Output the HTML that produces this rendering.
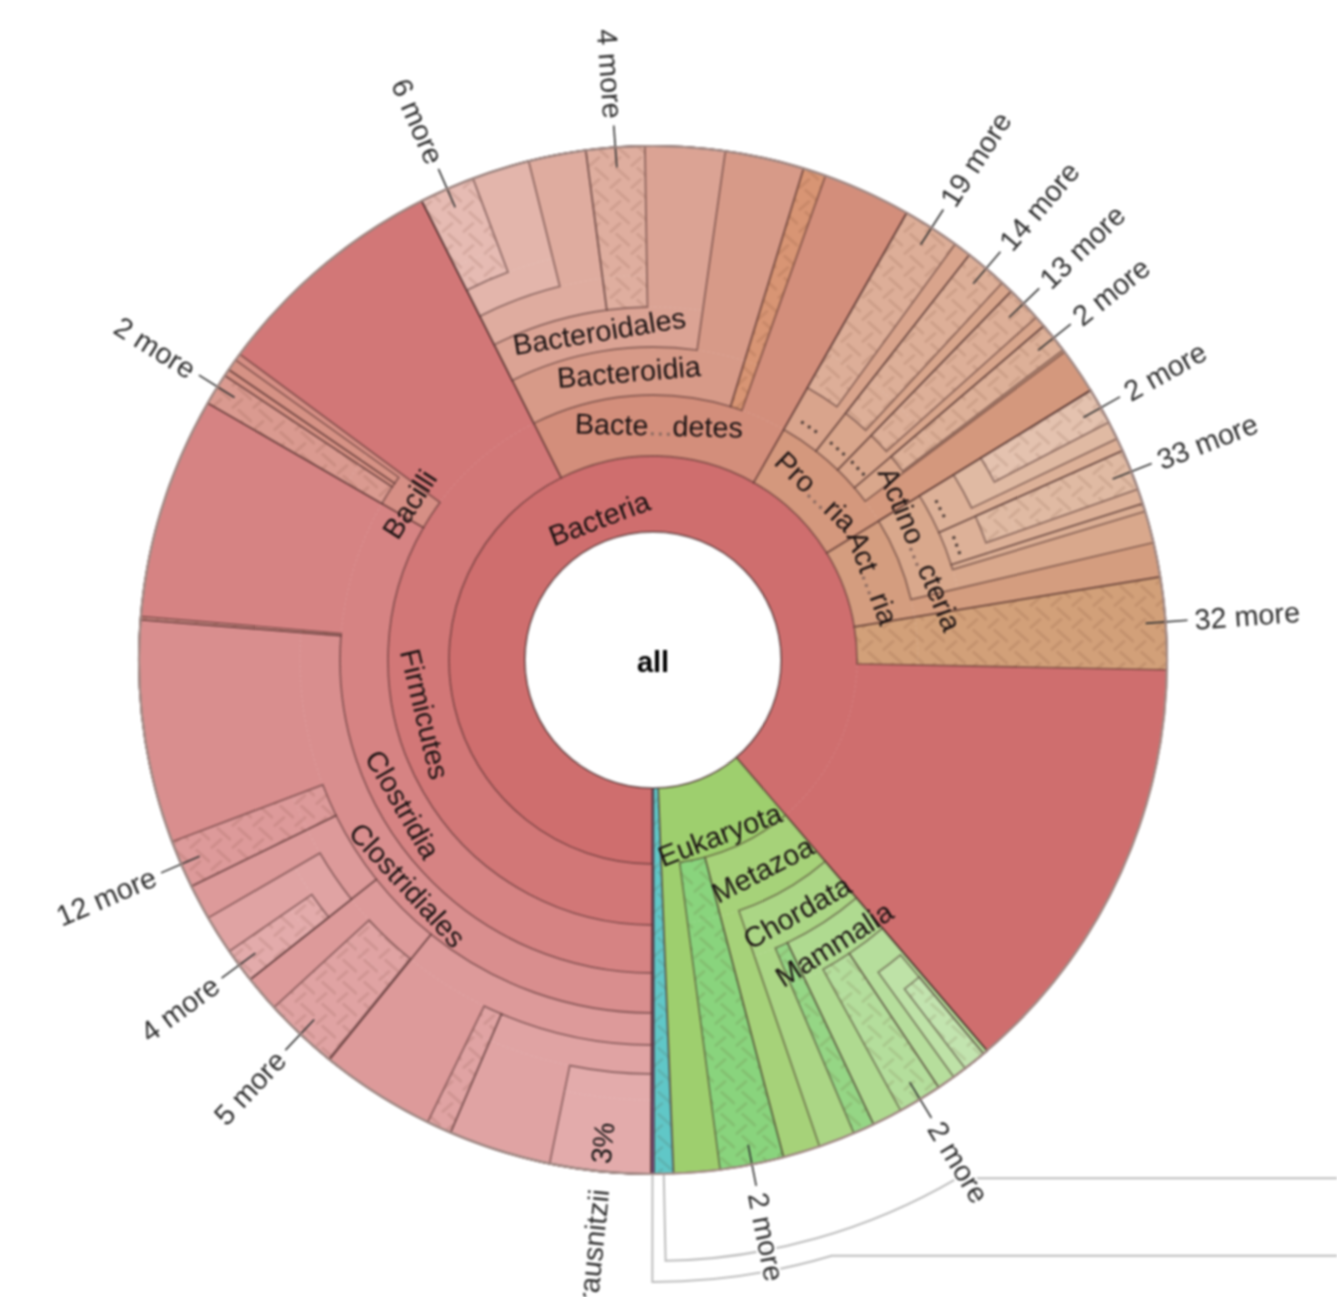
<!DOCTYPE html><html><head><meta charset="utf-8"><style>html,body{margin:0;padding:0;background:#fff;}svg{display:block;}</style></head><body>
<svg width="1337" height="1297" viewBox="0 0 1337 1297" font-family="'Liberation Sans', sans-serif" style="filter:blur(0.85px)">
<defs><pattern id="hp" patternUnits="userSpaceOnUse" width="21" height="22"><path d="M2 11.4 L10.8 3.6 M7.8 14.4 L19.8 25.1 M7.8 -7.6 L19.8 3.1" stroke="rgba(80,40,20,0.11)" stroke-width="3.2" fill="none" stroke-linecap="round"/></pattern></defs>
<rect width="1337" height="1297" fill="#fff"/>
<path d="M652.46 1175.00 L652.35 1282.00 A622.00 622.00 0 0 0 831.74 1255.77 L1340 1255.77" fill="none" stroke="#bdbdbd" stroke-width="2"/><path d="M663.79 1174.89 L665.59 1260.87 A601.00 601.00 0 0 0 957.13 1178.37 L1340 1178.37" fill="none" stroke="#bdbdbd" stroke-width="2"/>
<path d="M652.44 788.00 L650.76 1174.00 A514.00 514.00 0 1 1 986.82 1050.85 L736.13 757.33 A128.00 128.00 0 1 0 652.44 788.00 Z" fill="#cf6e6e" stroke="rgba(60,30,30,0.45)" stroke-width="1.9"/>
<path d="M652.11 864.00 A204.00 204.00 0 1 1 785.49 815.12" fill="none" stroke="rgba(255,255,255,0.09)" stroke-width="1.3" stroke-dasharray="3 2"/>
<path d="M736.13 757.33 L986.82 1050.85 A514.00 514.00 0 0 1 673.63 1173.59 L658.14 787.90 A128.00 128.00 0 0 0 736.13 757.33 Z" fill="#9ecf6e" stroke="rgba(60,30,30,0.45)" stroke-width="1.9"/>
<path d="M785.49 815.12 A204.00 204.00 0 0 1 661.19 863.84" fill="none" stroke="rgba(255,255,255,0.09)" stroke-width="1.3" stroke-dasharray="3 2"/>
<path d="M658.03 787.90 L673.18 1173.60 A514.00 514.00 0 0 1 653.90 1174.00 L653.22 788.00 A128.00 128.00 0 0 0 658.03 787.90 Z" fill="#60c7c7" stroke="rgba(60,30,30,0.45)" stroke-width="1.9"/>
<path d="M658.03 787.90 L673.18 1173.60 A514.00 514.00 0 0 1 653.90 1174.00 L653.22 788.00 A128.00 128.00 0 0 0 658.03 787.90 Z" fill="url(#hp)"/>
<path d="M661.01 863.84 A204.00 204.00 0 0 1 653.36 864.00" fill="none" stroke="rgba(255,255,255,0.09)" stroke-width="1.3" stroke-dasharray="3 2"/>
<path d="M653.22 788.00 L653.90 1174.00 A514.00 514.00 0 0 1 650.76 1174.00 L652.44 788.00 A128.00 128.00 0 0 0 653.22 788.00 Z" fill="#8a5c9c" stroke="rgba(60,30,30,0.45)" stroke-width="1.9"/>
<path d="M653.36 864.00 A204.00 204.00 0 0 1 652.11 864.00" fill="none" stroke="rgba(255,255,255,0.09)" stroke-width="1.3" stroke-dasharray="3 2"/>
<path d="M652.11 864.00 L650.76 1174.00 A514.00 514.00 0 0 1 422.05 200.81 L561.34 477.75 A204.00 204.00 0 0 0 652.11 864.00 Z" fill="#d27777" stroke="rgba(60,30,30,0.45)" stroke-width="1.9"/>
<path d="M651.84 925.00 A265.00 265.00 0 0 1 533.93 423.26" fill="none" stroke="rgba(255,255,255,0.09)" stroke-width="1.3" stroke-dasharray="3 2"/>
<path d="M561.34 477.75 L422.05 200.81 A514.00 514.00 0 0 1 906.89 213.08 L753.76 482.62 A204.00 204.00 0 0 0 561.34 477.75 Z" fill="#d38e7b" stroke="rgba(60,30,30,0.45)" stroke-width="1.9"/>
<path d="M533.93 423.26 A265.00 265.00 0 0 1 783.89 429.58" fill="none" stroke="rgba(255,255,255,0.09)" stroke-width="1.3" stroke-dasharray="3 2"/>
<path d="M753.76 482.62 L906.89 213.08 A514.00 514.00 0 0 1 1090.79 390.67 L826.75 553.11 A204.00 204.00 0 0 0 753.76 482.62 Z" fill="#d4987d" stroke="rgba(60,30,30,0.45)" stroke-width="1.9"/>
<path d="M783.89 429.58 A265.00 265.00 0 0 1 878.71 521.14" fill="none" stroke="rgba(255,255,255,0.09)" stroke-width="1.3" stroke-dasharray="3 2"/>
<path d="M826.75 553.11 L1090.79 390.67 A514.00 514.00 0 0 1 1160.24 576.94 L854.32 627.03 A204.00 204.00 0 0 0 826.75 553.11 Z" fill="#d49d7f" stroke="rgba(60,30,30,0.45)" stroke-width="1.9"/>
<path d="M878.71 521.14 A265.00 265.00 0 0 1 914.52 617.17" fill="none" stroke="rgba(255,255,255,0.09)" stroke-width="1.3" stroke-dasharray="3 2"/>
<path d="M854.32 627.03 L1160.24 576.94 A514.00 514.00 0 0 1 1166.91 669.87 L856.96 663.92 A204.00 204.00 0 0 0 854.32 627.03 Z" fill="#d2a079" stroke="rgba(60,30,30,0.45)" stroke-width="1.9"/>
<path d="M854.32 627.03 L1160.24 576.94 A514.00 514.00 0 0 1 1166.91 669.87 L856.96 663.92 A204.00 204.00 0 0 0 854.32 627.03 Z" fill="url(#hp)"/>
<path d="M914.52 617.17 A265.00 265.00 0 0 1 917.95 665.09" fill="none" stroke="rgba(255,255,255,0.09)" stroke-width="1.3" stroke-dasharray="3 2"/>
<path d="M785.49 815.12 L986.82 1050.85 A514.00 514.00 0 0 1 783.43 1157.18 L704.77 857.32 A204.00 204.00 0 0 0 785.49 815.12 Z" fill="#a6d279" stroke="rgba(60,30,30,0.45)" stroke-width="1.9"/>
<path d="M825.10 861.51 A265.00 265.00 0 0 1 720.25 916.33" fill="none" stroke="rgba(255,255,255,0.09)" stroke-width="1.3" stroke-dasharray="3 2"/>
<path d="M704.77 857.32 L783.43 1157.18 A514.00 514.00 0 0 1 720.09 1169.60 L679.63 862.25 A204.00 204.00 0 0 0 704.77 857.32 Z" fill="#89d47d" stroke="rgba(60,30,30,0.45)" stroke-width="1.9"/>
<path d="M704.77 857.32 L783.43 1157.18 A514.00 514.00 0 0 1 720.09 1169.60 L679.63 862.25 A204.00 204.00 0 0 0 704.77 857.32 Z" fill="url(#hp)"/>
<path d="M720.25 916.33 A265.00 265.00 0 0 1 687.59 922.73" fill="none" stroke="rgba(255,255,255,0.09)" stroke-width="1.3" stroke-dasharray="3 2"/>
<path d="M651.84 925.00 L650.76 1174.00 A514.00 514.00 0 0 1 207.86 403.00 L423.50 527.50 A265.00 265.00 0 0 0 651.84 925.00 Z" fill="#d68383" stroke="rgba(60,30,30,0.45)" stroke-width="1.9"/>
<path d="M651.63 973.00 A313.00 313.00 0 0 1 381.93 503.50" fill="none" stroke="rgba(255,255,255,0.09)" stroke-width="1.3" stroke-dasharray="3 2"/>
<path d="M423.50 527.50 L207.86 403.00 A514.00 514.00 0 0 1 239.82 354.26 L439.98 502.37 A265.00 265.00 0 0 0 423.50 527.50 Z" fill="#d68f85" stroke="rgba(60,30,30,0.45)" stroke-width="1.9"/>
<path d="M381.93 503.50 A313.00 313.00 0 0 1 401.39 473.82" fill="none" stroke="rgba(255,255,255,0.09)" stroke-width="1.3" stroke-dasharray="3 2"/>
<path d="M533.93 423.26 L422.05 200.81 A514.00 514.00 0 0 1 803.71 168.59 L730.70 406.65 A265.00 265.00 0 0 0 533.93 423.26 Z" fill="#d79a88" stroke="rgba(60,30,30,0.45)" stroke-width="1.9"/>
<path d="M512.36 380.37 A313.00 313.00 0 0 1 744.77 360.76" fill="none" stroke="rgba(255,255,255,0.09)" stroke-width="1.3" stroke-dasharray="3 2"/>
<path d="M730.70 406.65 L803.71 168.59 A514.00 514.00 0 0 1 825.42 175.78 L741.89 410.35 A265.00 265.00 0 0 0 730.70 406.65 Z" fill="#d89574" stroke="rgba(60,30,30,0.45)" stroke-width="1.9"/>
<path d="M730.70 406.65 L803.71 168.59 A514.00 514.00 0 0 1 825.42 175.78 L741.89 410.35 A265.00 265.00 0 0 0 730.70 406.65 Z" fill="url(#hp)"/>
<path d="M744.77 360.76 A313.00 313.00 0 0 1 758.00 365.14" fill="none" stroke="rgba(255,255,255,0.09)" stroke-width="1.3" stroke-dasharray="3 2"/>
<path d="M783.89 429.58 L906.89 213.08 A514.00 514.00 0 0 1 969.45 254.96 L816.15 451.18 A265.00 265.00 0 0 0 783.89 429.58 Z" fill="#d9a48c" stroke="rgba(60,30,30,0.45)" stroke-width="1.9"/>
<path d="M807.60 387.85 A313.00 313.00 0 0 1 845.70 413.35" fill="none" stroke="rgba(255,255,255,0.09)" stroke-width="1.3" stroke-dasharray="3 2"/>
<path d="M816.15 451.18 L969.45 254.96 A514.00 514.00 0 0 1 1011.34 291.51 L837.75 470.02 A265.00 265.00 0 0 0 816.15 451.18 Z" fill="#d9a68c" stroke="rgba(60,30,30,0.45)" stroke-width="1.9"/>
<path d="M845.70 413.35 A313.00 313.00 0 0 1 871.21 435.61" fill="none" stroke="rgba(255,255,255,0.09)" stroke-width="1.3" stroke-dasharray="3 2"/>
<path d="M837.75 470.02 L1011.34 291.51 A514.00 514.00 0 0 1 1043.85 326.18 L854.51 487.90 A265.00 265.00 0 0 0 837.75 470.02 Z" fill="#d9a68c" stroke="rgba(60,30,30,0.45)" stroke-width="1.9"/>
<path d="M871.21 435.61 A313.00 313.00 0 0 1 891.01 456.72" fill="none" stroke="rgba(255,255,255,0.09)" stroke-width="1.3" stroke-dasharray="3 2"/>
<path d="M854.51 487.90 L1043.85 326.18 A514.00 514.00 0 0 1 1064.58 352.10 L865.19 501.26 A265.00 265.00 0 0 0 854.51 487.90 Z" fill="#d9a78c" stroke="rgba(60,30,30,0.45)" stroke-width="1.9"/>
<path d="M891.01 456.72 A313.00 313.00 0 0 1 903.63 472.51" fill="none" stroke="rgba(255,255,255,0.09)" stroke-width="1.3" stroke-dasharray="3 2"/>
<path d="M878.71 521.14 L1090.79 390.67 A514.00 514.00 0 0 1 1153.42 542.63 L911.00 599.49 A265.00 265.00 0 0 0 878.71 521.14 Z" fill="#d9a88c" stroke="rgba(60,30,30,0.45)" stroke-width="1.9"/>
<path d="M919.59 495.99 A313.00 313.00 0 0 1 957.73 588.53" fill="none" stroke="rgba(255,255,255,0.09)" stroke-width="1.3" stroke-dasharray="3 2"/>
<path d="M825.10 861.51 L986.82 1050.85 A514.00 514.00 0 0 1 819.49 1146.29 L738.84 910.71 A265.00 265.00 0 0 0 825.10 861.51 Z" fill="#abd685" stroke="rgba(60,30,30,0.45)" stroke-width="1.9"/>
<path d="M856.28 898.01 A313.00 313.00 0 0 1 754.39 956.12" fill="none" stroke="rgba(255,255,255,0.09)" stroke-width="1.3" stroke-dasharray="3 2"/>
<path d="M651.63 973.00 L650.76 1174.00 A514.00 514.00 0 0 1 140.58 619.67 L340.96 635.44 A313.00 313.00 0 0 0 651.63 973.00 Z" fill="#d98e8e" stroke="rgba(60,30,30,0.45)" stroke-width="1.9"/>
<path d="M651.46 1013.00 A353.00 353.00 0 0 1 301.09 632.30" fill="none" stroke="rgba(255,255,255,0.09)" stroke-width="1.3" stroke-dasharray="3 2"/>
<path d="M340.96 635.44 L140.58 619.67 A514.00 514.00 0 0 1 140.84 616.54 L341.12 633.54 A313.00 313.00 0 0 0 340.96 635.44 Z" fill="#d9938c" stroke="rgba(60,30,30,0.45)" stroke-width="1.9"/>
<path d="M340.96 635.44 L140.58 619.67 A514.00 514.00 0 0 1 140.84 616.54 L341.12 633.54 A313.00 313.00 0 0 0 340.96 635.44 Z" fill="url(#hp)"/>
<path d="M301.09 632.30 A353.00 353.00 0 0 1 301.26 630.15" fill="none" stroke="rgba(255,255,255,0.09)" stroke-width="1.3" stroke-dasharray="3 2"/>
<path d="M381.93 503.50 L207.86 403.00 A514.00 514.00 0 0 1 224.88 375.56 L392.30 486.79 A313.00 313.00 0 0 0 381.93 503.50 Z" fill="#da9a90" stroke="rgba(60,30,30,0.45)" stroke-width="1.9"/>
<path d="M381.93 503.50 L207.86 403.00 A514.00 514.00 0 0 1 224.88 375.56 L392.30 486.79 A313.00 313.00 0 0 0 381.93 503.50 Z" fill="url(#hp)"/>
<path d="M347.29 483.50 A353.00 353.00 0 0 1 358.98 464.65" fill="none" stroke="rgba(255,255,255,0.09)" stroke-width="1.3" stroke-dasharray="3 2"/>
<path d="M392.30 486.79 L224.88 375.56 A514.00 514.00 0 0 1 228.89 369.61 L394.74 483.17 A313.00 313.00 0 0 0 392.30 486.79 Z" fill="#d69285" stroke="rgba(60,30,30,0.45)" stroke-width="1.9"/>
<path d="M358.98 464.65 A353.00 353.00 0 0 1 361.73 460.57" fill="none" stroke="rgba(255,255,255,0.09)" stroke-width="1.3" stroke-dasharray="3 2"/>
<path d="M394.74 483.17 L228.89 369.61 A514.00 514.00 0 0 1 235.59 360.06 L398.82 477.35 A313.00 313.00 0 0 0 394.74 483.17 Z" fill="#d69285" stroke="rgba(60,30,30,0.45)" stroke-width="1.9"/>
<path d="M361.73 460.57 A353.00 353.00 0 0 1 366.33 454.01" fill="none" stroke="rgba(255,255,255,0.09)" stroke-width="1.3" stroke-dasharray="3 2"/>
<path d="M512.36 380.37 L422.05 200.81 A514.00 514.00 0 0 1 725.42 151.13 L697.10 350.12 A313.00 313.00 0 0 0 512.36 380.37 Z" fill="#dba394" stroke="rgba(60,30,30,0.45)" stroke-width="1.9"/>
<path d="M494.39 344.64 A353.00 353.00 0 0 1 702.74 310.52" fill="none" stroke="rgba(255,255,255,0.09)" stroke-width="1.3" stroke-dasharray="3 2"/>
<path d="M807.60 387.85 L906.89 213.08 A514.00 514.00 0 0 1 955.12 244.17 L836.98 406.78 A313.00 313.00 0 0 0 807.60 387.85 Z" fill="#ddae98" stroke="rgba(60,30,30,0.45)" stroke-width="1.9"/>
<path d="M807.60 387.85 L906.89 213.08 A514.00 514.00 0 0 1 955.12 244.17 L836.98 406.78 A313.00 313.00 0 0 0 807.60 387.85 Z" fill="url(#hp)"/>
<path d="M827.36 353.07 A353.00 353.00 0 0 1 860.49 374.42" fill="none" stroke="rgba(255,255,255,0.09)" stroke-width="1.3" stroke-dasharray="3 2"/>
<path d="M845.70 413.35 L969.45 254.96 A514.00 514.00 0 0 1 1002.23 282.86 L865.67 430.34 A313.00 313.00 0 0 0 845.70 413.35 Z" fill="#ddaf98" stroke="rgba(60,30,30,0.45)" stroke-width="1.9"/>
<path d="M845.70 413.35 L969.45 254.96 A514.00 514.00 0 0 1 1002.23 282.86 L865.67 430.34 A313.00 313.00 0 0 0 845.70 413.35 Z" fill="url(#hp)"/>
<path d="M870.33 381.83 A353.00 353.00 0 0 1 892.84 400.99" fill="none" stroke="rgba(255,255,255,0.09)" stroke-width="1.3" stroke-dasharray="3 2"/>
<path d="M871.21 435.61 L1011.34 291.51 A514.00 514.00 0 0 1 1036.17 317.40 L886.33 451.38 A313.00 313.00 0 0 0 871.21 435.61 Z" fill="#ddaf98" stroke="rgba(60,30,30,0.45)" stroke-width="1.9"/>
<path d="M871.21 435.61 L1011.34 291.51 A514.00 514.00 0 0 1 1036.17 317.40 L886.33 451.38 A313.00 313.00 0 0 0 871.21 435.61 Z" fill="url(#hp)"/>
<path d="M899.10 406.93 A353.00 353.00 0 0 1 916.15 424.71" fill="none" stroke="rgba(255,255,255,0.09)" stroke-width="1.3" stroke-dasharray="3 2"/>
<path d="M891.01 456.72 L1043.85 326.18 A514.00 514.00 0 0 1 1062.96 349.95 L902.64 471.20 A313.00 313.00 0 0 0 891.01 456.72 Z" fill="#ddb098" stroke="rgba(60,30,30,0.45)" stroke-width="1.9"/>
<path d="M891.01 456.72 L1043.85 326.18 A514.00 514.00 0 0 1 1062.96 349.95 L902.64 471.20 A313.00 313.00 0 0 0 891.01 456.72 Z" fill="url(#hp)"/>
<path d="M921.42 430.74 A353.00 353.00 0 0 1 934.55 447.07" fill="none" stroke="rgba(255,255,255,0.09)" stroke-width="1.3" stroke-dasharray="3 2"/>
<path d="M919.59 495.99 L1090.79 390.67 A514.00 514.00 0 0 1 1122.56 450.94 L938.94 532.69 A313.00 313.00 0 0 0 919.59 495.99 Z" fill="#ddb198" stroke="rgba(60,30,30,0.45)" stroke-width="1.9"/>
<path d="M953.66 475.03 A353.00 353.00 0 0 1 975.48 516.42" fill="none" stroke="rgba(255,255,255,0.09)" stroke-width="1.3" stroke-dasharray="3 2"/>
<path d="M938.94 532.69 L1122.56 450.94 A514.00 514.00 0 0 1 1142.67 503.73 L951.18 564.84 A313.00 313.00 0 0 0 938.94 532.69 Z" fill="#ddb198" stroke="rgba(60,30,30,0.45)" stroke-width="1.9"/>
<path d="M975.48 516.42 A353.00 353.00 0 0 1 989.29 552.68" fill="none" stroke="rgba(255,255,255,0.09)" stroke-width="1.3" stroke-dasharray="3 2"/>
<path d="M951.18 564.84 L1142.67 503.73 A514.00 514.00 0 0 1 1145.06 511.44 L952.64 569.53 A313.00 313.00 0 0 0 951.18 564.84 Z" fill="#dbae94" stroke="rgba(60,30,30,0.45)" stroke-width="1.9"/>
<path d="M989.29 552.68 A353.00 353.00 0 0 1 990.93 557.97" fill="none" stroke="rgba(255,255,255,0.09)" stroke-width="1.3" stroke-dasharray="3 2"/>
<path d="M856.28 898.01 L986.82 1050.85 A514.00 514.00 0 0 1 873.47 1124.31 L787.26 942.74 A313.00 313.00 0 0 0 856.28 898.01 Z" fill="#afda90" stroke="rgba(60,30,30,0.45)" stroke-width="1.9"/>
<path d="M882.26 928.42 A353.00 353.00 0 0 1 804.41 978.88" fill="none" stroke="rgba(255,255,255,0.09)" stroke-width="1.3" stroke-dasharray="3 2"/>
<path d="M787.26 942.74 L873.47 1124.31 A514.00 514.00 0 0 1 853.84 1133.14 L775.30 948.12 A313.00 313.00 0 0 0 787.26 942.74 Z" fill="#95d685" stroke="rgba(60,30,30,0.45)" stroke-width="1.9"/>
<path d="M787.26 942.74 L873.47 1124.31 A514.00 514.00 0 0 1 853.84 1133.14 L775.30 948.12 A313.00 313.00 0 0 0 787.26 942.74 Z" fill="url(#hp)"/>
<path d="M804.41 978.88 A353.00 353.00 0 0 1 790.93 984.94" fill="none" stroke="rgba(255,255,255,0.09)" stroke-width="1.3" stroke-dasharray="3 2"/>
<path d="M651.46 1013.00 L650.76 1174.00 A514.00 514.00 0 0 1 329.53 1059.45 L430.85 934.33 A353.00 353.00 0 0 0 651.46 1013.00 Z" fill="#dd9a9a" stroke="rgba(60,30,30,0.45)" stroke-width="1.9"/>
<path d="M651.32 1045.00 A385.00 385.00 0 0 1 410.71 959.20" fill="none" stroke="rgba(255,255,255,0.09)" stroke-width="1.3" stroke-dasharray="3 2"/>
<path d="M430.85 934.33 L329.53 1059.45 A514.00 514.00 0 0 1 250.18 979.27 L376.36 879.27 A353.00 353.00 0 0 0 430.85 934.33 Z" fill="#dd9a9a" stroke="rgba(60,30,30,0.45)" stroke-width="1.9"/>
<path d="M410.71 959.20 A385.00 385.00 0 0 1 351.28 899.14" fill="none" stroke="rgba(255,255,255,0.09)" stroke-width="1.3" stroke-dasharray="3 2"/>
<path d="M376.36 879.27 L250.18 979.27 A514.00 514.00 0 0 1 191.41 886.13 L336.00 815.30 A353.00 353.00 0 0 0 376.36 879.27 Z" fill="#dd9a9a" stroke="rgba(60,30,30,0.45)" stroke-width="1.9"/>
<path d="M351.28 899.14 A385.00 385.00 0 0 1 307.26 829.38" fill="none" stroke="rgba(255,255,255,0.09)" stroke-width="1.3" stroke-dasharray="3 2"/>
<path d="M336.00 815.30 L191.41 886.13 A514.00 514.00 0 0 1 172.18 841.69 L322.79 784.78 A353.00 353.00 0 0 0 336.00 815.30 Z" fill="#dd9a9a" stroke="rgba(60,30,30,0.45)" stroke-width="1.9"/>
<path d="M336.00 815.30 L191.41 886.13 A514.00 514.00 0 0 1 172.18 841.69 L322.79 784.78 A353.00 353.00 0 0 0 336.00 815.30 Z" fill="url(#hp)"/>
<path d="M307.26 829.38 A385.00 385.00 0 0 1 292.85 796.09" fill="none" stroke="rgba(255,255,255,0.09)" stroke-width="1.3" stroke-dasharray="3 2"/>
<path d="M494.39 344.64 L422.05 200.81 A514.00 514.00 0 0 1 585.91 150.40 L606.92 310.02 A353.00 353.00 0 0 0 494.39 344.64 Z" fill="#dfac9f" stroke="rgba(60,30,30,0.45)" stroke-width="1.9"/>
<path d="M480.01 316.05 A385.00 385.00 0 0 1 602.75 278.29" fill="none" stroke="rgba(255,255,255,0.09)" stroke-width="1.3" stroke-dasharray="3 2"/>
<path d="M606.92 310.02 L585.91 150.40 A514.00 514.00 0 0 1 644.93 146.06 L647.46 307.04 A353.00 353.00 0 0 0 606.92 310.02 Z" fill="#dfae9f" stroke="rgba(60,30,30,0.45)" stroke-width="1.9"/>
<path d="M606.92 310.02 L585.91 150.40 A514.00 514.00 0 0 1 644.93 146.06 L647.46 307.04 A353.00 353.00 0 0 0 606.92 310.02 Z" fill="url(#hp)"/>
<path d="M602.75 278.29 A385.00 385.00 0 0 1 646.95 275.05" fill="none" stroke="rgba(255,255,255,0.09)" stroke-width="1.3" stroke-dasharray="3 2"/>
<path d="M953.66 475.03 L1090.79 390.67 A514.00 514.00 0 0 1 1116.93 438.72 L971.61 508.03 A353.00 353.00 0 0 0 953.66 475.03 Z" fill="#e0baa3" stroke="rgba(60,30,30,0.45)" stroke-width="1.9"/>
<path d="M980.91 458.27 A385.00 385.00 0 0 1 1000.50 494.25" fill="none" stroke="rgba(255,255,255,0.09)" stroke-width="1.3" stroke-dasharray="3 2"/>
<path d="M975.48 516.42 L1122.56 450.94 A514.00 514.00 0 0 1 1137.82 489.27 L985.96 542.75 A353.00 353.00 0 0 0 975.48 516.42 Z" fill="#e0baa3" stroke="rgba(60,30,30,0.45)" stroke-width="1.9"/>
<path d="M975.48 516.42 L1122.56 450.94 A514.00 514.00 0 0 1 1137.82 489.27 L985.96 542.75 A353.00 353.00 0 0 0 975.48 516.42 Z" fill="url(#hp)"/>
<path d="M1004.72 503.41 A385.00 385.00 0 0 1 1016.14 532.12" fill="none" stroke="rgba(255,255,255,0.09)" stroke-width="1.3" stroke-dasharray="3 2"/>
<path d="M882.26 928.42 L986.82 1050.85 A514.00 514.00 0 0 1 938.56 1087.38 L849.12 953.51 A353.00 353.00 0 0 0 882.26 928.42 Z" fill="#b6de9c" stroke="rgba(60,30,30,0.45)" stroke-width="1.9"/>
<path d="M903.04 952.76 A385.00 385.00 0 0 1 866.89 980.12" fill="none" stroke="rgba(255,255,255,0.09)" stroke-width="1.3" stroke-dasharray="3 2"/>
<path d="M849.12 953.51 L938.56 1087.38 A514.00 514.00 0 0 1 900.62 1110.42 L823.06 969.34 A353.00 353.00 0 0 0 849.12 953.51 Z" fill="#b4de9c" stroke="rgba(60,30,30,0.45)" stroke-width="1.9"/>
<path d="M849.12 953.51 L938.56 1087.38 A514.00 514.00 0 0 1 900.62 1110.42 L823.06 969.34 A353.00 353.00 0 0 0 849.12 953.51 Z" fill="url(#hp)"/>
<path d="M866.89 980.12 A385.00 385.00 0 0 1 838.48 997.38" fill="none" stroke="rgba(255,255,255,0.09)" stroke-width="1.3" stroke-dasharray="3 2"/>
<path d="M651.32 1045.00 L650.76 1174.00 A514.00 514.00 0 0 1 450.51 1132.44 L501.33 1013.87 A385.00 385.00 0 0 0 651.32 1045.00 Z" fill="#e0a3a3" stroke="rgba(60,30,30,0.45)" stroke-width="1.9"/>
<path d="M651.19 1074.00 A414.00 414.00 0 0 1 489.91 1040.52" fill="none" stroke="rgba(255,255,255,0.09)" stroke-width="1.3" stroke-dasharray="3 2"/>
<path d="M501.33 1013.87 L450.51 1132.44 A514.00 514.00 0 0 1 427.68 1121.98 L484.23 1006.04 A385.00 385.00 0 0 0 501.33 1013.87 Z" fill="#e0a3a3" stroke="rgba(60,30,30,0.45)" stroke-width="1.9"/>
<path d="M501.33 1013.87 L450.51 1132.44 A514.00 514.00 0 0 1 427.68 1121.98 L484.23 1006.04 A385.00 385.00 0 0 0 501.33 1013.87 Z" fill="url(#hp)"/>
<path d="M489.91 1040.52 A414.00 414.00 0 0 1 471.51 1032.10" fill="none" stroke="rgba(255,255,255,0.09)" stroke-width="1.3" stroke-dasharray="3 2"/>
<path d="M410.19 958.78 L328.83 1058.89 A514.00 514.00 0 0 1 274.04 1007.25 L369.15 920.10 A385.00 385.00 0 0 0 410.19 958.78 Z" fill="#e0a3a3" stroke="rgba(60,30,30,0.45)" stroke-width="1.9"/>
<path d="M410.19 958.78 L328.83 1058.89 A514.00 514.00 0 0 1 274.04 1007.25 L369.15 920.10 A385.00 385.00 0 0 0 410.19 958.78 Z" fill="url(#hp)"/>
<path d="M391.90 981.28 A414.00 414.00 0 0 1 347.77 939.69" fill="none" stroke="rgba(255,255,255,0.09)" stroke-width="1.3" stroke-dasharray="3 2"/>
<path d="M351.28 899.14 L250.18 979.27 A514.00 514.00 0 0 1 208.31 917.78 L319.92 853.08 A385.00 385.00 0 0 0 351.28 899.14 Z" fill="#e0a3a3" stroke="rgba(60,30,30,0.45)" stroke-width="1.9"/>
<path d="M328.55 917.16 A414.00 414.00 0 0 1 294.83 867.63" fill="none" stroke="rgba(255,255,255,0.09)" stroke-width="1.3" stroke-dasharray="3 2"/>
<path d="M480.01 316.05 L422.05 200.81 A514.00 514.00 0 0 1 528.65 161.27 L559.86 286.44 A385.00 385.00 0 0 0 480.01 316.05 Z" fill="#e3b5ab" stroke="rgba(60,30,30,0.45)" stroke-width="1.9"/>
<path d="M466.98 290.14 A414.00 414.00 0 0 1 552.84 258.30" fill="none" stroke="rgba(255,255,255,0.09)" stroke-width="1.3" stroke-dasharray="3 2"/>
<path d="M980.91 458.27 L1090.79 390.67 A514.00 514.00 0 0 1 1108.72 422.26 L994.34 481.93 A385.00 385.00 0 0 0 980.91 458.27 Z" fill="#e4c2af" stroke="rgba(60,30,30,0.45)" stroke-width="1.9"/>
<path d="M980.91 458.27 L1090.79 390.67 A514.00 514.00 0 0 1 1108.72 422.26 L994.34 481.93 A385.00 385.00 0 0 0 980.91 458.27 Z" fill="url(#hp)"/>
<path d="M1005.61 443.07 A414.00 414.00 0 0 1 1020.06 468.52" fill="none" stroke="rgba(255,255,255,0.09)" stroke-width="1.3" stroke-dasharray="3 2"/>
<path d="M900.47 954.93 L983.39 1053.75 A514.00 514.00 0 0 1 953.67 1076.89 L878.21 972.26 A385.00 385.00 0 0 0 900.47 954.93 Z" fill="#bee2a7" stroke="rgba(60,30,30,0.45)" stroke-width="1.9"/>
<path d="M919.11 977.14 A414.00 414.00 0 0 1 895.17 995.78" fill="none" stroke="rgba(255,255,255,0.09)" stroke-width="1.3" stroke-dasharray="3 2"/>
<path d="M651.19 1074.00 L650.76 1174.00 A514.00 514.00 0 0 1 549.65 1163.50 L569.75 1065.54 A414.00 414.00 0 0 0 651.19 1074.00 Z" fill="#e3abab" stroke="rgba(60,30,30,0.45)" stroke-width="1.9"/>
<path d="M651.08 1100.00 A440.00 440.00 0 0 1 564.53 1091.01" fill="none" stroke="rgba(255,255,255,0.09)" stroke-width="1.3" stroke-dasharray="3 2"/>
<path d="M328.55 917.16 L250.18 979.27 A514.00 514.00 0 0 1 229.40 951.13 L311.81 894.49 A414.00 414.00 0 0 0 328.55 917.16 Z" fill="#e3abab" stroke="rgba(60,30,30,0.45)" stroke-width="1.9"/>
<path d="M328.55 917.16 L250.18 979.27 A514.00 514.00 0 0 1 229.40 951.13 L311.81 894.49 A414.00 414.00 0 0 0 328.55 917.16 Z" fill="url(#hp)"/>
<path d="M308.17 933.31 A440.00 440.00 0 0 1 290.38 909.22" fill="none" stroke="rgba(255,255,255,0.09)" stroke-width="1.3" stroke-dasharray="3 2"/>
<path d="M466.98 290.14 L422.05 200.81 A514.00 514.00 0 0 1 472.99 178.55 L508.01 272.22 A414.00 414.00 0 0 0 466.98 290.14 Z" fill="#e6bbb3" stroke="rgba(60,30,30,0.45)" stroke-width="1.9"/>
<path d="M466.98 290.14 L422.05 200.81 A514.00 514.00 0 0 1 472.99 178.55 L508.01 272.22 A414.00 414.00 0 0 0 466.98 290.14 Z" fill="url(#hp)"/>
<path d="M455.30 266.92 A440.00 440.00 0 0 1 498.91 247.86" fill="none" stroke="rgba(255,255,255,0.09)" stroke-width="1.3" stroke-dasharray="3 2"/>
<path d="M919.11 977.14 L983.39 1053.75 A514.00 514.00 0 0 1 965.19 1068.33 L904.45 988.89 A414.00 414.00 0 0 0 919.11 977.14 Z" fill="#c2e4af" stroke="rgba(60,30,30,0.45)" stroke-width="1.9"/>
<path d="M919.11 977.14 L983.39 1053.75 A514.00 514.00 0 0 1 965.19 1068.33 L904.45 988.89 A414.00 414.00 0 0 0 919.11 977.14 Z" fill="url(#hp)"/>
<path d="M935.83 997.06 A440.00 440.00 0 0 1 920.25 1009.54" fill="none" stroke="rgba(255,255,255,0.09)" stroke-width="1.3" stroke-dasharray="3 2"/>
<circle cx="653.0" cy="660.0" r="128" fill="#fff" stroke="rgba(60,30,30,0.45)" stroke-width="1.9"/>
<text x="653.0" y="662.0" font-size="29" font-weight="bold" text-anchor="middle" dominant-baseline="central" fill="#000">all</text>
<text transform="translate(599.20 518.37) rotate(339.20)" font-size="28.8" text-anchor="middle" dominant-baseline="central" fill="#1a1212">Bacteria</text>
<text transform="translate(719.71 834.70) rotate(-20.90)" font-size="28.8" text-anchor="middle" dominant-baseline="central" fill="#1a1212">Eukaryota</text>
<text transform="translate(424.84 714.15) rotate(76.65)" font-size="28.8" text-anchor="middle" dominant-baseline="central" fill="#1a1212">Firmicutes</text>
<text transform="translate(658.93 425.58) rotate(1.45)" font-size="28.8" text-anchor="middle" dominant-baseline="central" fill="#1a1212">Bacte<tspan fill="#8a6a60" stroke="none">...</tspan>detes</text>
<text transform="translate(815.90 491.31) rotate(44.00)" font-size="28.8" text-anchor="middle" dominant-baseline="central" fill="#1a1212">Pro<tspan fill="#8a6a60" stroke="none">...</tspan>ria</text>
<text transform="translate(872.65 577.88) rotate(69.50)" font-size="28.8" text-anchor="middle" dominant-baseline="central" fill="#1a1212">Act<tspan fill="#8a6a60" stroke="none">...</tspan>ria</text>
<text transform="translate(762.57 869.59) rotate(-27.60)" font-size="28.8" text-anchor="middle" dominant-baseline="central" fill="#1a1212">Metazoa</text>
<text transform="translate(402.72 804.50) rotate(60.00)" font-size="28.8" text-anchor="middle" dominant-baseline="central" fill="#1a1212">Clostridia</text>
<text transform="translate(409.53 504.30) rotate(302.60)" font-size="28.8" text-anchor="middle" dominant-baseline="central" fill="#1a1212">Bacilli</text>
<text transform="translate(628.82 372.01) rotate(355.20)" font-size="28.8" text-anchor="middle" dominant-baseline="central" fill="#1a1212">Bacteroidia</text>
<text transform="translate(813.77 419.85) rotate(33.80)" font-size="28.8" text-anchor="middle" dominant-baseline="central" fill="#4a3a35">...</text>
<text transform="translate(842.98 442.22) rotate(41.10)" font-size="28.8" text-anchor="middle" dominant-baseline="central" fill="#4a3a35">...</text>
<text transform="translate(864.02 462.53) rotate(46.90)" font-size="28.8" text-anchor="middle" dominant-baseline="central" fill="#4a3a35">...</text>
<text transform="translate(919.90 549.17) rotate(67.45)" font-size="28.8" text-anchor="middle" dominant-baseline="central" fill="#1a1212">Actino<tspan fill="#8a6a60" stroke="none">...</tspan>cteria</text>
<text transform="translate(796.93 912.34) rotate(-29.70)" font-size="28.8" text-anchor="middle" dominant-baseline="central" fill="#1a1212">Chordata</text>
<text transform="translate(407.49 884.97) rotate(47.50)" font-size="28.8" text-anchor="middle" dominant-baseline="central" fill="#1a1212">Clostridiales</text>
<text transform="translate(599.19 331.38) rotate(350.70)" font-size="28.8" text-anchor="middle" dominant-baseline="central" fill="#1a1212">Bacteroidales</text>
<text transform="translate(834.07 944.22) rotate(-32.50)" font-size="28.8" text-anchor="middle" dominant-baseline="central" fill="#1a1212">Mammalia</text>
<text transform="translate(947.57 504.69) rotate(62.20)" font-size="28.8" text-anchor="middle" dominant-baseline="central" fill="#4a3a35">...</text>
<text transform="translate(964.50 542.29) rotate(69.30)" font-size="28.8" text-anchor="middle" dominant-baseline="central" fill="#4a3a35">...</text>
<line x1="455.23" y1="207.32" x2="438.41" y2="168.83" stroke="#333" stroke-width="1.6"/>
<text transform="translate(435.61 162.42) rotate(426.40)" font-size="28.8" text-anchor="end" dominant-baseline="central" fill="#2e2e2e" stroke="#fff" stroke-width="5" paint-order="stroke" stroke-linejoin="round">6 more</text>
<line x1="616.82" y1="167.33" x2="613.74" y2="125.44" stroke="#333" stroke-width="1.6"/>
<text transform="translate(613.23 118.46) rotate(445.80)" font-size="28.8" text-anchor="end" dominant-baseline="central" fill="#2e2e2e" stroke="#fff" stroke-width="5" paint-order="stroke" stroke-linejoin="round">4 more</text>
<line x1="920.60" y1="244.76" x2="943.36" y2="209.46" stroke="#333" stroke-width="1.6"/>
<text transform="translate(947.15 203.57) rotate(-57.20)" font-size="28.8" text-anchor="start" dominant-baseline="central" fill="#2e2e2e" stroke="#fff" stroke-width="5" paint-order="stroke" stroke-linejoin="round">19 more</text>
<line x1="973.17" y1="283.80" x2="1000.39" y2="251.82" stroke="#333" stroke-width="1.6"/>
<text transform="translate(1004.93 246.48) rotate(-49.60)" font-size="28.8" text-anchor="start" dominant-baseline="central" fill="#2e2e2e" stroke="#fff" stroke-width="5" paint-order="stroke" stroke-linejoin="round">14 more</text>
<line x1="1008.95" y1="317.46" x2="1039.22" y2="288.34" stroke="#333" stroke-width="1.6"/>
<text transform="translate(1044.26 283.48) rotate(-43.90)" font-size="28.8" text-anchor="start" dominant-baseline="central" fill="#2e2e2e" stroke="#fff" stroke-width="5" paint-order="stroke" stroke-linejoin="round">13 more</text>
<line x1="1037.99" y1="350.46" x2="1070.73" y2="324.14" stroke="#333" stroke-width="1.6"/>
<text transform="translate(1076.18 319.75) rotate(-38.80)" font-size="28.8" text-anchor="start" dominant-baseline="central" fill="#2e2e2e" stroke="#fff" stroke-width="5" paint-order="stroke" stroke-linejoin="round">2 more</text>
<line x1="1083.38" y1="417.49" x2="1119.97" y2="396.88" stroke="#333" stroke-width="1.6"/>
<text transform="translate(1126.07 393.44) rotate(-29.40)" font-size="28.8" text-anchor="start" dominant-baseline="central" fill="#2e2e2e" stroke="#fff" stroke-width="5" paint-order="stroke" stroke-linejoin="round">2 more</text>
<line x1="1112.63" y1="478.95" x2="1151.70" y2="463.56" stroke="#333" stroke-width="1.6"/>
<text transform="translate(1158.22 460.99) rotate(-21.50)" font-size="28.8" text-anchor="start" dominant-baseline="central" fill="#2e2e2e" stroke="#fff" stroke-width="5" paint-order="stroke" stroke-linejoin="round">33 more</text>
<line x1="1145.64" y1="623.39" x2="1187.53" y2="620.28" stroke="#333" stroke-width="1.6"/>
<text transform="translate(1194.51 619.76) rotate(-4.25)" font-size="28.8" text-anchor="start" dominant-baseline="central" fill="#2e2e2e" stroke="#fff" stroke-width="5" paint-order="stroke" stroke-linejoin="round">32 more</text>
<line x1="909.64" y1="1082.10" x2="931.46" y2="1117.99" stroke="#333" stroke-width="1.6"/>
<text transform="translate(935.10 1123.97) rotate(58.70)" font-size="28.8" text-anchor="start" dominant-baseline="central" fill="#2e2e2e" stroke="#fff" stroke-width="5" paint-order="stroke" stroke-linejoin="round">2 more</text>
<line x1="748.11" y1="1144.76" x2="756.19" y2="1185.97" stroke="#333" stroke-width="1.6"/>
<text transform="translate(757.54 1192.84) rotate(78.90)" font-size="28.8" text-anchor="start" dominant-baseline="central" fill="#2e2e2e" stroke="#fff" stroke-width="5" paint-order="stroke" stroke-linejoin="round">2 more</text>
<text transform="translate(599.24 1189.28) rotate(275.80)" font-size="28.8" text-anchor="end" dominant-baseline="central" fill="#2e2e2e" stroke="#fff" stroke-width="5" paint-order="stroke" stroke-linejoin="round">F. prausnitzii</text>
<line x1="314.21" y1="1019.52" x2="285.40" y2="1050.09" stroke="#333" stroke-width="1.6"/>
<text transform="translate(280.60 1055.18) rotate(313.30)" font-size="28.8" text-anchor="end" dominant-baseline="central" fill="#2e2e2e" stroke="#fff" stroke-width="5" paint-order="stroke" stroke-linejoin="round">5 more</text>
<line x1="255.38" y1="953.15" x2="221.58" y2="978.07" stroke="#333" stroke-width="1.6"/>
<text transform="translate(215.94 982.23) rotate(323.60)" font-size="28.8" text-anchor="end" dominant-baseline="central" fill="#2e2e2e" stroke="#fff" stroke-width="5" paint-order="stroke" stroke-linejoin="round">4 more</text>
<line x1="199.63" y1="856.19" x2="161.08" y2="872.87" stroke="#333" stroke-width="1.6"/>
<text transform="translate(154.66 875.65) rotate(336.60)" font-size="28.8" text-anchor="end" dominant-baseline="central" fill="#2e2e2e" stroke="#fff" stroke-width="5" paint-order="stroke" stroke-linejoin="round">12 more</text>
<line x1="234.52" y1="397.49" x2="198.94" y2="375.17" stroke="#333" stroke-width="1.6"/>
<text transform="translate(193.01 371.45) rotate(392.10)" font-size="28.8" text-anchor="end" dominant-baseline="central" fill="#2e2e2e" stroke="#fff" stroke-width="5" paint-order="stroke" stroke-linejoin="round">2 more</text>
<circle cx="653" cy="660" r="514" fill="none" stroke="#a58d88" stroke-width="2.2"/><text transform="translate(602.58 1142.98) rotate(275.96)" font-size="28.5" text-anchor="middle" dominant-baseline="central" fill="#111">3%</text>
</svg></body></html>
